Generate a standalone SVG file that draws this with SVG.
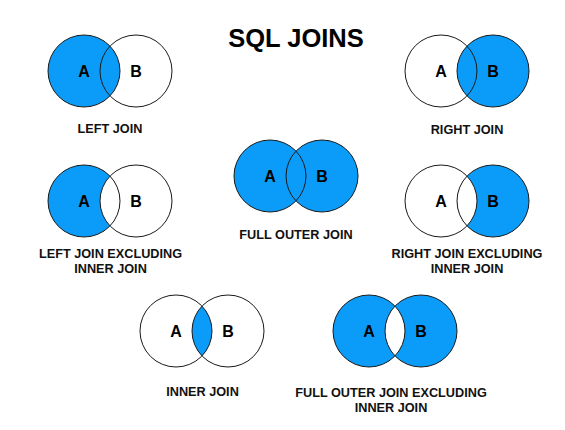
<svg xmlns="http://www.w3.org/2000/svg" xmlns:xlink="http://www.w3.org/1999/xlink" width="565" height="430" viewBox="0 0 565 430">
<style>
.bg{fill:#ffffff}
.blue{fill:#0A9CF8}
.white{fill:#ffffff}
.ring{fill:none;stroke:#1a1a1a;stroke-width:1}
.title{font-family:"Liberation Sans",Arial,sans-serif;font-weight:bold;font-size:25.5px;fill:#000;text-anchor:middle}
.set{font-family:"Liberation Sans",Arial,sans-serif;font-weight:bold;font-size:16px;fill:#000;text-anchor:middle}
.cap{font-family:"Liberation Sans",Arial,sans-serif;font-weight:bold;font-size:12.7px;fill:#111;text-anchor:middle}
</style>
<defs>
<circle id="cA" cx="0" cy="0" r="36"/>
<circle id="cB" cx="52" cy="0" r="36"/>
<path id="lens" d="M26,-24.9 A36,36 0 0 1 26,24.9 A36,36 0 0 1 26,-24.9 Z"/>
</defs>
<rect class="bg" x="0" y="0" width="565" height="430"/>
<text class="title" x="296" y="47">SQL JOINS</text>

<g id="left-join">
<g transform="translate(84,71)">
<use xlink:href="#cA" class="blue"/>
<use xlink:href="#cA" class="ring"/>
<use xlink:href="#cB" class="ring"/>
<text class="set" x="0" y="5.8">A</text>
<text class="set" x="52" y="5.8">B</text>
</g>
<text class="cap" x="110" y="133">LEFT JOIN</text>
</g>

<g id="right-join">
<g transform="translate(441,71)">
<use xlink:href="#cB" class="blue"/>
<use xlink:href="#cA" class="ring"/>
<use xlink:href="#cB" class="ring"/>
<text class="set" x="0" y="5.8">A</text>
<text class="set" x="52" y="5.8">B</text>
</g>
<text class="cap" x="467" y="134">RIGHT JOIN</text>
</g>

<g id="full-outer-join">
<g transform="translate(270,176)">
<use xlink:href="#cA" class="blue"/>
<use xlink:href="#cB" class="blue"/>
<use xlink:href="#cA" class="ring"/>
<use xlink:href="#cB" class="ring"/>
<text class="set" x="0" y="5.8">A</text>
<text class="set" x="52" y="5.8">B</text>
</g>
<text class="cap" x="296" y="239">FULL OUTER JOIN</text>
</g>

<g id="left-join-excluding">
<g transform="translate(84,201)">
<use xlink:href="#cA" class="blue"/>
<use xlink:href="#lens" class="white"/>
<use xlink:href="#cA" class="ring"/>
<use xlink:href="#cB" class="ring"/>
<text class="set" x="0" y="5.8">A</text>
<text class="set" x="52" y="5.8">B</text>
</g>
<text class="cap" x="110.5" y="258">LEFT JOIN EXCLUDING</text>
<text class="cap" x="110.5" y="272.5">INNER JOIN</text>
</g>

<g id="right-join-excluding">
<g transform="translate(441,201)">
<use xlink:href="#cB" class="blue"/>
<use xlink:href="#lens" class="white"/>
<use xlink:href="#cA" class="ring"/>
<use xlink:href="#cB" class="ring"/>
<text class="set" x="0" y="5.8">A</text>
<text class="set" x="52" y="5.8">B</text>
</g>
<text class="cap" x="467" y="258">RIGHT JOIN EXCLUDING</text>
<text class="cap" x="467" y="272.5">INNER JOIN</text>
</g>

<g id="inner-join">
<g transform="translate(176,331)">
<use xlink:href="#lens" class="blue"/>
<use xlink:href="#cA" class="ring"/>
<use xlink:href="#cB" class="ring"/>
<text class="set" x="0" y="5.8">A</text>
<text class="set" x="52" y="5.8">B</text>
</g>
<text class="cap" x="202.5" y="396">INNER JOIN</text>
</g>

<g id="full-outer-join-excluding">
<g transform="translate(369,331)">
<use xlink:href="#cA" class="blue"/>
<use xlink:href="#cB" class="blue"/>
<use xlink:href="#lens" class="white"/>
<use xlink:href="#cA" class="ring"/>
<use xlink:href="#cB" class="ring"/>
<text class="set" x="0" y="5.8">A</text>
<text class="set" x="52" y="5.8">B</text>
</g>
<text class="cap" x="391" y="397">FULL OUTER JOIN EXCLUDING</text>
<text class="cap" x="391" y="412">INNER JOIN</text>
</g>

<g id="connectors"></g>
</svg>
